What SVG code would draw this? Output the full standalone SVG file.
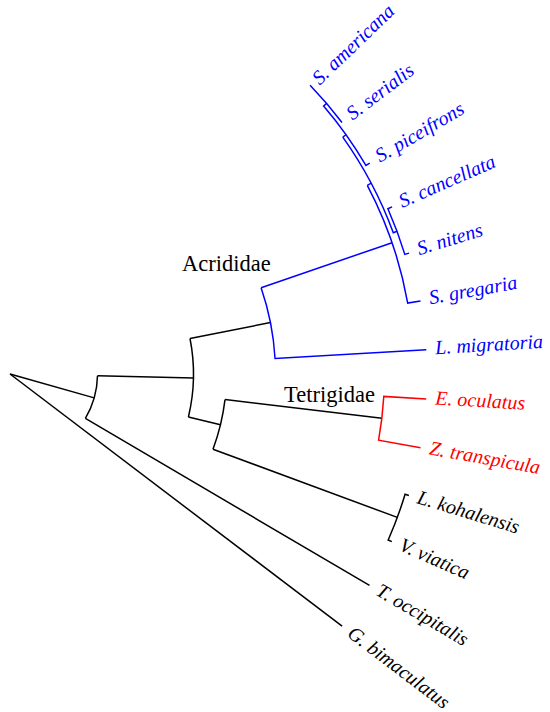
<svg xmlns="http://www.w3.org/2000/svg" width="550" height="712" viewBox="0 0 550 712">
<style>
.e{fill:none;stroke-width:1.5;stroke-linecap:butt}
.k{stroke:#000}
.b{stroke:#0000ff}
.r{stroke:#ff0000}
.lab{font-family:"Liberation Serif","Times New Roman",serif;font-style:italic;font-size:20px}
.clade{font-family:"Liberation Serif","Times New Roman",serif;font-size:22.5px;fill:#000}
.tb{fill:#0000ff}
.tr{fill:#ff0000}
.tk{fill:#000}
</style>
<rect width="550" height="712" fill="#fff"/>
<g id="connectors">
  <path class="e k" d="M10,374 L94.2,397.9"/>
  <path class="e k" d="M10,374 L342.1,626.2"/>
  <path class="e k" d="M97.5,375.8 A87.5,87.5 0 0 1 85.4,418.4"/>
  <path class="e k" d="M85.4,418.4 L369.5,585.4"/>
  <path class="e k" d="M97.5,375.8 L193.5,377.9"/>
  <path class="e k" d="M190.0,338.5 A183.5,183.5 0 0 1 188.4,417.0"/>
  <path class="e k" d="M190.0,338.5 L270.5,322.6"/>
  <path class="e k" d="M188.4,417.0 L220.5,424.8"/>
  <path class="e k" d="M225.0,399.6 A216.5,216.5 0 0 1 213.0,449.2"/>
  <path class="e k" d="M225.0,399.6 L381.9,418.3"/>
  <path class="e k" d="M213.0,449.2 L397.3,517.4"/>
  <path class="e k" d="M408.9,495.5 L405.1,494.3 A413,413 0 0 1 388.2,540.0 L391.8,541.6"/>
  <path class="e r" d="M426.2,398.9 L383.8,396.4 A374.5,374.5 0 0 1 378.6,440.2 L420.5,447.7"/>
  <path class="e b" d="M261.1,287.7 A265.5,265.5 0 0 1 275.05,358.5 L426.3,349.7"/>
  <path class="e b" d="M261.1,287.7 L392.1,242.7"/>
  <path class="e b" d="M367.3,185.3 A404,404 0 0 1 407.7,303.1 L420.5,300.9"/>
  <path class="e b" d="M367.3,185.3 L371.2,183.2"/>
  <path class="e b" d="M342.8,137.1 A408.5,408.5 0 0 1 393.3,232.7 L397.05,231.3"/>
  <path class="e b" d="M392.1,206.9 L387.9,208.7 A412.5,412.5 0 0 1 404.8,254.4 L409.1,253.1"/>
  <path class="e b" d="M342.8,137.1 L346.0,134.75"/>
  <path class="e b" d="M326.7,103.4 L323.6,106.0 A412.5,412.5 0 0 1 365.9,165.4 L369.7,163.1"/>
  <path class="e b" d="M310.1,85.2 A416.5,416.5 0 0 1 342.0,122.5"/>
</g>
<g id="clade-Acrididae"><text class="clade" x="182" y="271">Acrididae</text></g>
<g id="clade-Tetrigidae"><text class="clade" x="284" y="402">Tetrigidae</text></g>
<g id="node-S-americana"><text class="lab tb" transform="translate(10,374) rotate(-43.9)" x="423" y="7">S. americana</text></g>
<g id="node-S-serialis"><text class="lab tb" transform="translate(10,374) rotate(-37.14)" x="426" y="5">S. serialis</text></g>
<g id="node-S-piceifrons"><text class="lab tb" transform="translate(10,374) rotate(-30.38)" x="426" y="5">S. piceifrons</text></g>
<g id="node-S-cancellata"><text class="lab tb" transform="translate(10,374) rotate(-23.62)" x="426" y="5">S. cancellata</text></g>
<g id="node-S-nitens"><text class="lab tb" transform="translate(10,374) rotate(-16.86)" x="426" y="5">S. nitens</text></g>
<g id="node-S-gregaria"><text class="lab tb" transform="translate(10,374) rotate(-10.1)" x="426" y="5">S. gregaria</text></g>
<g id="node-L-migratoria"><text class="lab tb" transform="translate(10,374) rotate(-3.34)" x="426" y="5">L. migratoria</text></g>
<g id="node-E-oculatus"><text class="lab tr" transform="translate(10,374) rotate(3.42)" x="426" y="5">E. oculatus</text></g>
<g id="node-Z-transpicula"><text class="lab tr" transform="translate(10,374) rotate(10.18)" x="426" y="5">Z. transpicula</text></g>
<g id="node-L-kohalensis"><text class="lab tk" transform="translate(10,374) rotate(16.94)" x="426" y="5">L. kohalensis</text></g>
<g id="node-V-viatica"><text class="lab tk" transform="translate(10,374) rotate(23.7)" x="426" y="5">V. viatica</text></g>
<g id="node-T-occipitalis"><text class="lab tk" transform="translate(10,374) rotate(30.46)" x="426" y="5">T. occipitalis</text></g>
<g id="node-G-bimaculatus"><text class="lab tk" transform="translate(10,374) rotate(37.22)" x="426" y="5">G. bimaculatus</text></g>
</svg>
